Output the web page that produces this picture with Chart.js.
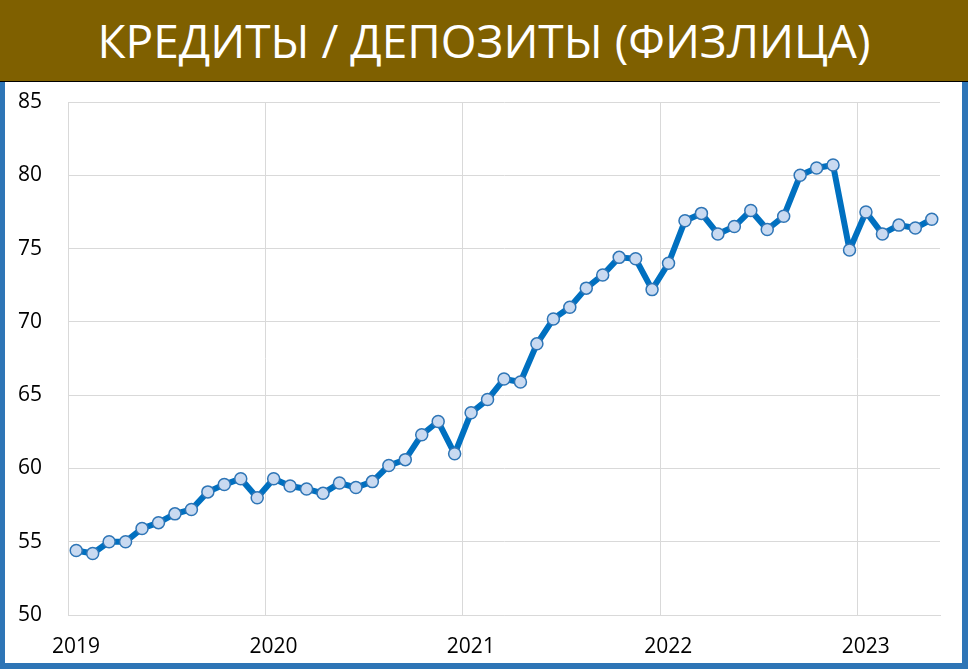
<!DOCTYPE html>
<html>
<head>
<meta charset="utf-8">
<script src="https://cdn.jsdelivr.net/npm/chart.js@4.4.0/dist/chart.umd.min.js"></script>
<style>
  html, body { margin: 0; padding: 0; background: #2e75b6; }
  #page { position: relative; width: 968px; height: 669px; overflow: hidden; background: #2e75b6; }
  #banner {
    position: absolute; left: 0; top: 0; width: 968px; height: 81px;
    background: #7f6000; border-bottom: 1px solid #000;
    color: #fff; font-family: "Open Sans", sans-serif; font-size: 46px;
    line-height: 80px; text-align: center; white-space: nowrap;
  }
  #box { position: absolute; left: 5px; top: 82px; width: 957px; height: 581px; background: #fff; }
</style>
</head>
<body>
<div id="page">
  <div id="banner">КРЕДИТЫ / ДЕПОЗИТЫ (ФИЗЛИЦА)</div>
  <div id="box"><canvas id="loanDepositChart" width="957" height="581"></canvas></div>
</div>
<script>
// monthly ratio of loans to deposits, %, Jan..Dec
const ratio2019 = [54.4, 54.2, 55.0, 55.0, 55.9, 56.3, 56.9, 57.2, 58.4, 58.9, 59.3, 58.0];
const ratio2020 = [59.3, 58.8, 58.6, 58.3, 59.0, 58.7, 59.1, 60.2, 60.6, 62.3, 63.2, 61.0];
const ratio2021 = [63.8, 64.7, 66.1, 65.9, 68.5, 70.2, 71.0, 72.3, 73.2, 74.4, 74.3, 72.2];
const ratio2022 = [74.0, 76.9, 77.4, 76.0, 76.5, 77.6, 76.3, 77.2, 80.0, 80.5, 80.7, 74.9];
const ratio2023 = [77.5, 76.0, 76.6, 76.4, 77.0];
const years = [2019, 2020, 2021, 2022, 2023];
const yTicks = [50, 55, 60, 65, 70, 75, 80, 85];

const allValues = [ratio2019, ratio2020, ratio2021, ratio2022, ratio2023].flat();
// each month sits in the middle of its slot, slots counted in months from Jan 2019
const points = allValues.map((v, i) => ({ x: i + 0.5, y: v }));

const gridGrey = "#d9d9d9";
const font = { family: "Open Sans", size: 21 };

const ctx = document.getElementById("loanDepositChart").getContext("2d");
const chart = new Chart(ctx, {
  type: "line",
  data: {
    datasets: [
      {
        data: points,
        borderColor: "#0070c0",
        borderWidth: 6,
        borderJoinStyle: "round",
        tension: 0,
        pointRadius: 6,
        pointBackgroundColor: "#c9daf1",
        pointBorderColor: "#2e75b6",
        pointBorderWidth: 1.5,
      },
    ],
  },
  options: {
    responsive: false,
    animation: false,
    layout: { padding: { top: 20, right: 22, left: 0, bottom: 0 } },
    plugins: { legend: { display: false }, tooltip: { enabled: false } },
    scales: {
      x: {
        type: "linear",
        min: 0,
        max: (years.length - 1) * 12 + ratio2023.length,
        afterBuildTicks: (scale) => {
          scale.ticks = years.map((y, i) => ({ value: i * 12 }));
        },
        afterFit: (scale) => { scale.height = 48; },
        ticks: {
          callback: (v) => String(years[0] + v / 12),
          font: font,
          color: "#000",
          padding: 19,
          labelOffset: 8,
          maxRotation: 0,
        },
        grid: { color: gridGrey, drawTicks: false },
        border: { color: gridGrey },
      },
      y: {
        min: yTicks[0],
        max: yTicks[yTicks.length - 1],
        afterBuildTicks: (scale) => {
          scale.ticks = yTicks.map((v) => ({ value: v }));
        },
        afterFit: (scale) => {
          scale.width = 63;
          scale.paddingTop = 0;
          scale.paddingBottom = 0;
        },
        ticks: { font: font, color: "#000", padding: 26 },
        grid: { color: gridGrey, drawTicks: false },
        border: { color: gridGrey },
      },
    },
  },
});
</script>
</body>
</html>
